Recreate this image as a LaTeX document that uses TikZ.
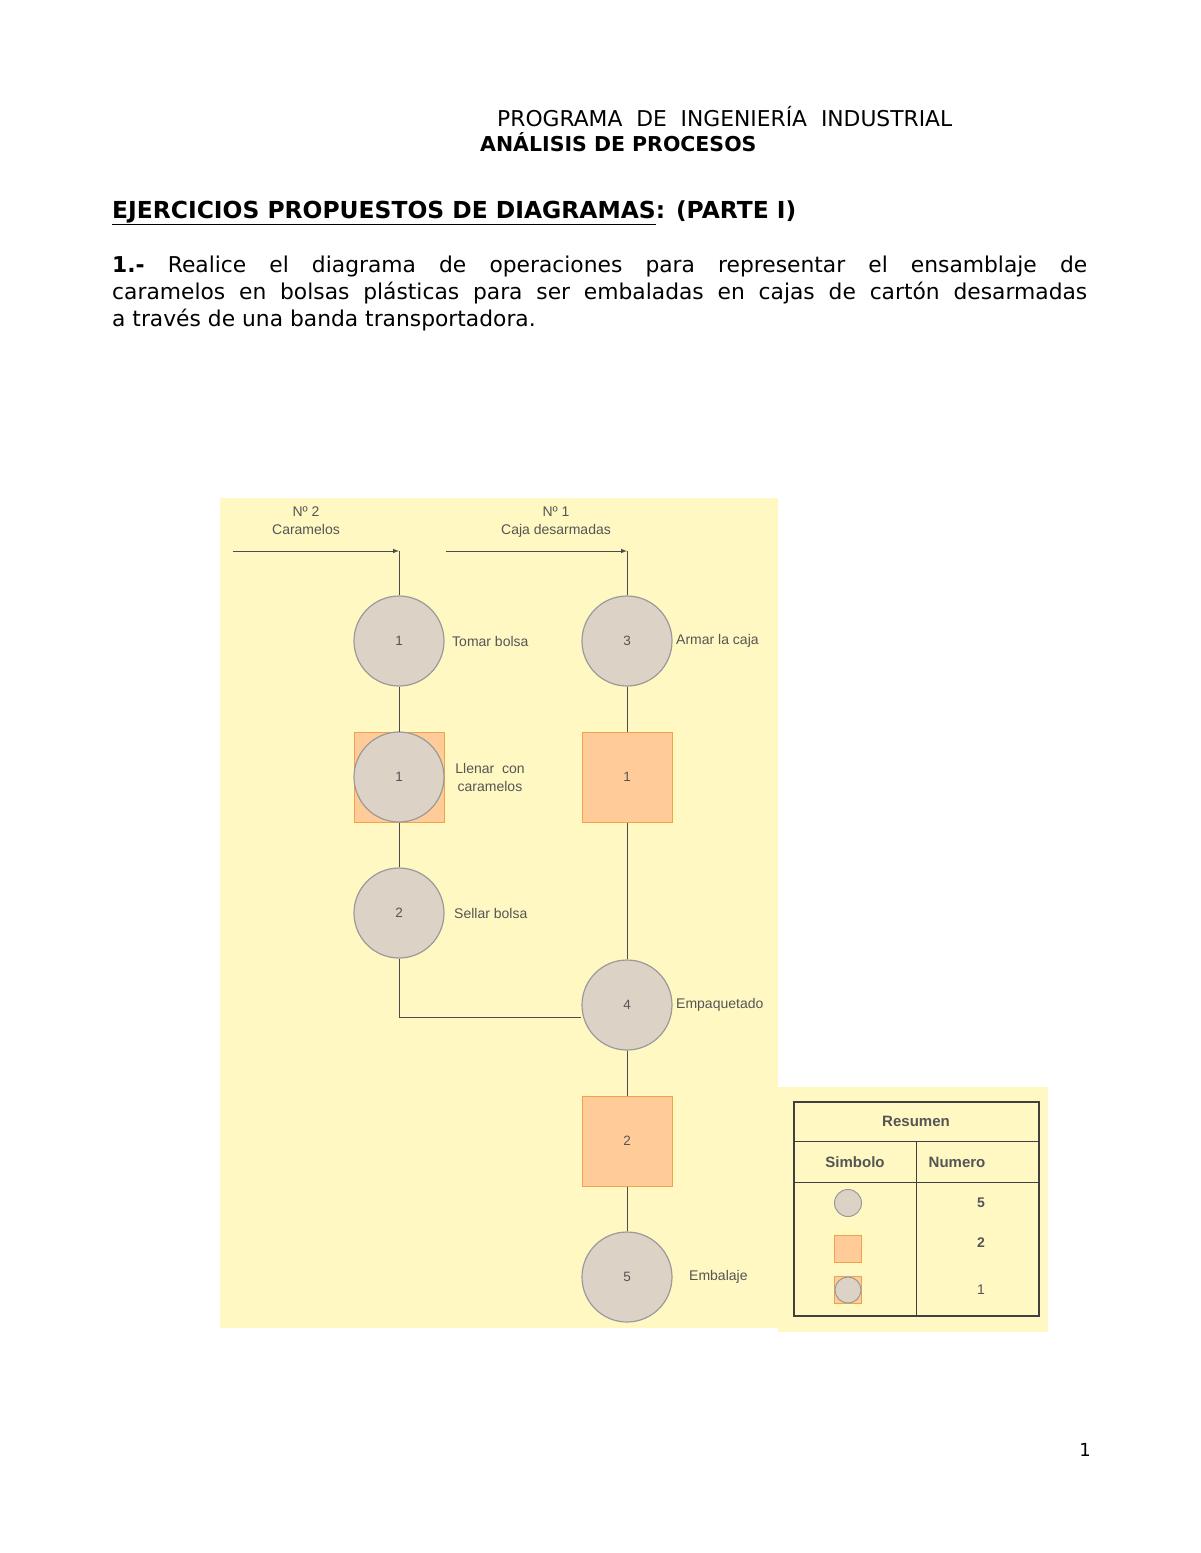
\documentclass[tikz,border=0pt]{standalone}
\usepackage{fontspec}
\setmainfont{DejaVu Sans}
\newfontfamily\dia{Liberation Sans}
\definecolor{bgy}{HTML}{FFF8C2}
\definecolor{cfill}{HTML}{DDD2C6}
\definecolor{cdraw}{HTML}{9A9A9A}
\definecolor{sfill}{HTML}{FFCC99}
\definecolor{sdraw}{HTML}{F2A24A}
\definecolor{tgray}{HTML}{555555}
\begin{document}
\begin{tikzpicture}[x=1pt,y=-1pt,
 op/.style={circle,fill=cfill,draw=cdraw,line width=1.2pt,minimum size=90pt,inner sep=0pt,font=\dia\fontsize{13.5}{15}\selectfont,text=tgray},
 insp/.style={rectangle,fill=sfill,draw=sdraw,line width=1pt,minimum size=90pt,inner sep=0pt,font=\dia\fontsize{13.5}{15}\selectfont,text=tgray},
 lbl/.style={font=\dia\fontsize{14}{16}\selectfont,text=tgray,inner sep=0pt},
 conn/.style={draw=black!70,line width=1pt},
 body/.style={font=\fontsize{21.8}{27}\selectfont,inner sep=0pt}]
\useasboundingbox[fill=white] (0,0) rectangle (1200,1553);
% header
\node[body,anchor=west] (h1) at (497,117) {PROGRAMA\ \ DE\ \ INGENIERÍA\ \ INDUSTRIAL};
\node[body,anchor=west,font=\bfseries\fontsize{20.5}{24}\selectfont] (h2) at (480,142) {ANÁLISIS DE PROCESOS};
\node[body,anchor=west,font=\bfseries\fontsize{23.4}{24}\selectfont] (t) at (112,213) {\underline{EJERCICIOS PROPUESTOS DE DIAGRAMAS}: (PARTE I)};
\node[body,anchor=north west,text width=975pt,align=justify] (p) at (112,256) {\textbf{1.-} Realice el diagrama de operaciones para representar el ensamblaje de\linebreak caramelos en bolsas plásticas para ser embaladas en cajas de cartón desarmadas\linebreak a través de una banda transportadora.};
\node[body,font=\fontsize{18}{20}\selectfont] (pg) at (1085,1450) {1};
% backgrounds
\fill[bgy] (220,498) rectangle (778,1328);
\fill[bgy] (778,1087) rectangle (1048,1332);
% inputs
\coordinate (a1s) at (233,551); \coordinate (a1e) at (399,551);
\coordinate (a2s) at (446,551); \coordinate (a2e) at (627,551);
\draw[conn,-latex] (a1s) -- (a1e);
\draw[conn,-latex] (a2s) -- (a2e);
\node[lbl,align=center] (in2) at (306,521) {Nº 2\\[2pt]Caramelos};
\node[lbl,align=center] (in1) at (556,522) {Nº 1\\[2pt]Caja desarmadas};
% nodes
\node[op] (o1) at (399,641) {1};
\node[insp] (c1) at (399,777) {};
\node[op] (o1b) at (399,777) {1};
\node[op] (o2) at (399,913) {2};
\node[op] (o3) at (627,641) {3};
\node[insp] (i1) at (627,777) {1};
\node[op] (o4) at (627,1005) {4};
\node[insp] (i2) at (627,1141) {2};
\node[op] (o5) at (627,1277) {5};
% connectors
\draw[conn] (a1e) -- (o1.north);
\draw[conn] (a2e) -- (o3.north);
\draw[conn] (o1) -- (c1);
\draw[conn] (c1) -- (o2);
\draw[conn] (o3) -- (i1);
\draw[conn] (i1) -- (o4);
\draw[conn] (o4) -- (i2);
\draw[conn] (i2) -- (o5);
\coordinate (m) at (399,1017);
\draw[conn] (o2.south) -- (m) -- (o4.west |- m);
% labels
\node[lbl,anchor=west] at (452,641) {Tomar bolsa};
\node[lbl,anchor=west] at (676,641) {Armar la caja};
\node[lbl,align=center] at (490,777) {Llenar\ \ con\\[2pt]caramelos};
\node[lbl,anchor=west] at (454,913) {Sellar bolsa};
\node[lbl,anchor=west] at (676,1005) {Empaquetado};
\node[lbl,anchor=west] at (689,1277) {Embalaje};
% table
\draw[black!75,line width=1.2pt] (794,1102) rectangle (1039,1316);
\draw[black!75,line width=1pt] (794,1141) -- (1039,1141) (794,1182) -- (1039,1182) (916,1141) -- (916,1316);
\node[lbl,font=\dia\bfseries\fontsize{15}{16}\selectfont] at (916,1121) {Resumen};
\node[lbl,font=\dia\bfseries\fontsize{15}{16}\selectfont] at (855,1162) {Simbolo};
\node[lbl,font=\dia\bfseries\fontsize{15}{16}\selectfont] at (957,1162) {Numero};
\node[circle,fill=cfill,draw=cdraw,line width=1pt,minimum size=27pt,inner sep=0pt] (s1) at (848,1203) {};
\node[rectangle,fill=sfill,draw=sdraw,line width=1pt,minimum size=27pt,inner sep=0pt] (s2) at (848,1249) {};
\node[rectangle,fill=sfill,draw=sdraw,line width=1pt,minimum size=27pt,inner sep=0pt] (s3) at (848,1290) {};
\node[circle,fill=cfill,draw=cdraw,line width=1pt,minimum size=26pt,inner sep=0pt] (s3c) at (848,1290) {};
\node[lbl,font=\dia\bfseries\fontsize{14}{16}\selectfont] at (981,1203) {5};
\node[lbl,font=\dia\bfseries\fontsize{14}{16}\selectfont] at (981,1243) {2};
\node[lbl] at (981,1290) {1};
\end{tikzpicture}
\end{document}
